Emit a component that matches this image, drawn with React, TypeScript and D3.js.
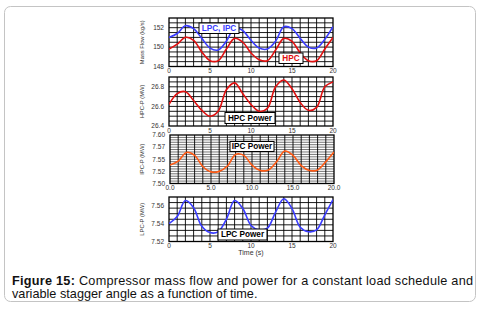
import { scaleLinear, line, curveCatmullRom, range } from "d3";

const TIME = range(0, 21);

// panel 1: mass flow (kg/s)
const lpcIpcFlow = [151.0, 151.4, 152.2, 151.9, 150.9, 149.9, 149.7, 150.6, 152.0, 151.7, 150.7, 149.9, 149.8, 150.6, 152.1, 151.9, 150.9, 150.0, 149.9, 150.8, 152.1];
const hpcFlow = [149.8, 150.3, 151.0, 150.7, 149.5, 148.6, 148.6, 149.8, 150.9, 150.5, 149.4, 148.7, 148.6, 149.7, 150.9, 150.6, 149.4, 148.6, 148.6, 149.8, 151.0];
// panel 2..4: power (MW)
const hpcPower = [26.62, 26.73, 26.75, 26.66, 26.56, 26.5, 26.55, 26.77, 26.84, 26.73, 26.62, 26.55, 26.58, 26.8, 26.87, 26.78, 26.64, 26.56, 26.59, 26.8, 26.85];
const ipcPower = [7.538, 7.546, 7.564, 7.558, 7.535, 7.524, 7.525, 7.536, 7.56, 7.558, 7.538, 7.527, 7.528, 7.545, 7.567, 7.558, 7.537, 7.527, 7.528, 7.545, 7.565];
const lpcPower = [7.54, 7.548, 7.566, 7.558, 7.537, 7.53, 7.531, 7.545, 7.566, 7.557, 7.538, 7.533, 7.535, 7.553, 7.568, 7.557, 7.536, 7.531, 7.533, 7.55, 7.567];

const xTicks = [0, 5, 10, 15, 20];
const CAPTION_BOLD = "Figure 15:";
const CAPTION_1 = " Compressor mass flow and power for a constant load schedule and";
const CAPTION_2 = "variable stagger angle as a function of time.";

interface Series {
  values: number[];
  color: string;
}

interface Panel {
  top: number;
  bottom: number;
  left: number;
  right: number;
  domain: [number, number];
  gridStep: number;
  gridWidth: number;
  yTicks: number[];
  yFmt: (v: number) => string;
  xFmt: (v: number) => string;
  title: string;
  series: Series[];
  boxes: { x: number; y: number; w: number; h: number; text: string; color: string }[];
}

const BLUE = "#3a3cff";
const RED = "#e01010";
const ORANGE = "#ff5a14";

const panels: Panel[] = [
  {
    top: 18, bottom: 66.5, left: 169, right: 333,
    domain: [148, 153], gridStep: 0.5, gridWidth: 0.9,
    yTicks: [148, 150, 152], yFmt: (v) => String(v), xFmt: (v) => String(v),
    title: "Mass Flow (kg/s)",
    series: [{ values: lpcIpcFlow, color: BLUE }, { values: hpcFlow, color: RED }],
    boxes: [
      { x: 199, y: 23, w: 40, h: 10.5, text: "LPC, IPC", color: BLUE },
      { x: 279, y: 53, w: 24, h: 10.5, text: "HPC", color: RED },
    ],
  },
  {
    top: 77, bottom: 126, left: 169, right: 333,
    domain: [26.4, 26.9], gridStep: 0.05, gridWidth: 0.9,
    yTicks: [26.4, 26.6, 26.8], yFmt: (v) => v.toFixed(1), xFmt: (v) => String(v),
    title: "HPC-P (MW)",
    series: [{ values: hpcPower, color: RED }],
    boxes: [{ x: 225, y: 112.5, w: 50, h: 11, text: "HPC Power", color: "#000" }],
  },
  {
    top: 135, bottom: 183.5, left: 170, right: 334,
    domain: [7.5, 7.6], gridStep: 0.005, gridWidth: 0.55,
    yTicks: [7.5, 7.525, 7.55, 7.575, 7.6],
    yFmt: (v) => (Math.floor(v * 100 + 1e-6) / 100).toFixed(2),
    xFmt: (v) => v.toFixed(1),
    title: "IPC-P (MW)",
    series: [{ values: ipcPower, color: ORANGE }],
    boxes: [{ x: 230, y: 141.5, w: 44, h: 10, text: "IPC Power", color: "#000" }],
  },
  {
    top: 197, bottom: 241.5, left: 169, right: 333,
    domain: [7.52, 7.57], gridStep: 0.00625, gridWidth: 0.9,
    yTicks: [7.52, 7.54, 7.56], yFmt: (v) => v.toFixed(2), xFmt: (v) => String(v),
    title: "LPC-P (MW)",
    series: [{ values: lpcPower, color: BLUE }],
    boxes: [{ x: 218, y: 229, w: 49, h: 11, text: "LPC Power", color: "#000" }],
  },
];

const FONT = "Liberation Sans, Arial, sans-serif";

function PanelView({ p, idx }: { p: Panel; idx: number }) {
  const x = scaleLinear().domain([0, 20]).range([p.left, p.right]);
  const y = scaleLinear().domain(p.domain).range([p.bottom, p.top]);
  const n = Math.round((p.domain[1] - p.domain[0]) / p.gridStep);
  const hLines = range(1, n).map((i) => p.domain[0] + i * p.gridStep);
  const vLines = range(1, 20);
  const clipId = `clip-${idx}`;
  const mid = (p.top + p.bottom) / 2;

  return (
    <g>
      <clipPath id={clipId}>
        <rect x={p.left} y={p.top} width={p.right - p.left} height={p.bottom - p.top} />
      </clipPath>
      <rect x={p.left} y={p.top} width={p.right - p.left} height={p.bottom - p.top} fill="#fff" />
      {/* grid */}
      {hLines.map((v) => (
        <line key={`h${v}`} x1={p.left} x2={p.right} y1={y(v)} y2={y(v)} stroke="#000" strokeWidth={p.gridWidth} />
      ))}
      {vLines.map((v) => (
        <line key={`v${v}`} x1={x(v)} x2={x(v)} y1={p.top} y2={p.bottom} stroke="#000" strokeWidth={0.9} />
      ))}
      <rect x={p.left} y={p.top} width={p.right - p.left} height={p.bottom - p.top} fill="none" stroke="#000" strokeWidth={1.3} />

      {/* curves */}
      <g clipPath={`url(#${clipId})`}>
        {p.series.map((s, i) => {
          const path = line<number>()
            .x((_, j) => x(TIME[j]))
            .y((d) => y(d))
            .curve(curveCatmullRom.alpha(0.5))(s.values);
          return <path key={i} d={path ?? ""} fill="none" stroke={s.color} strokeWidth={1.6} />;
        })}
      </g>

      {/* labels */}
      {p.boxes.map((b) => (
        <g key={b.text}>
          <rect x={b.x} y={b.y} width={b.w} height={b.h} fill="#fff" stroke="#000" strokeWidth={1} />
          <text x={b.x + b.w / 2} y={b.y + b.h / 2} dy="0.36em" textAnchor="middle" fontSize={8.2} fontWeight={700} fill={b.color} fontFamily={FONT}>
            {b.text}
          </text>
        </g>
      ))}

      {/* y ticks */}
      {p.yTicks.map((v) => (
        <text key={v} x={p.left - 5} y={y(v)} dy="0.35em" textAnchor="end" fontSize={6.5} fill="#333" fontFamily={FONT}>
          {p.yFmt(v)}
        </text>
      ))}
      {/* x ticks */}
      {xTicks.map((v) => (
        <text key={v} x={x(v)} y={p.bottom + 4.5} dy="0.35em" textAnchor="middle" fontSize={6.5} fill="#333" fontFamily={FONT}>
          {p.xFmt(v)}
        </text>
      ))}
      <text
        transform={`translate(142,${mid}) rotate(-90)`}
        textAnchor="middle"
        dy="0.35em"
        fontSize={5.8}
        fill="#333"
        fontFamily={FONT}
      >
        {p.title}
      </text>
    </g>
  );
}

export default function App() {
  return (
    <svg
      width={481}
      height={311}
      viewBox="0 0 481 311"
      style={{ position: "fixed", left: 0, top: 0, background: "#fff" }}
    >
      <rect x={4.5} y={6.5} width={471} height={295} rx={6} fill="#fff" stroke="#c4c4c4" strokeWidth={1} />
      {panels.map((p, i) => (
        <PanelView key={i} p={p} idx={i} />
      ))}
      <text x={251} y={253} dy="0.35em" textAnchor="middle" fontSize={7} fill="#333" fontFamily={FONT}>
        Time (s)
      </text>
      <text x={12} y={285} fontSize={12.7} fill="#111" fontFamily={FONT} textLength={461} lengthAdjust="spacing">
        <tspan fontWeight={700}>{CAPTION_BOLD}</tspan>
        {CAPTION_1}
      </text>
      <text x={12} y={298} fontSize={12.7} fill="#111" fontFamily={FONT}>
        {CAPTION_2}
      </text>
    </svg>
  );
}
